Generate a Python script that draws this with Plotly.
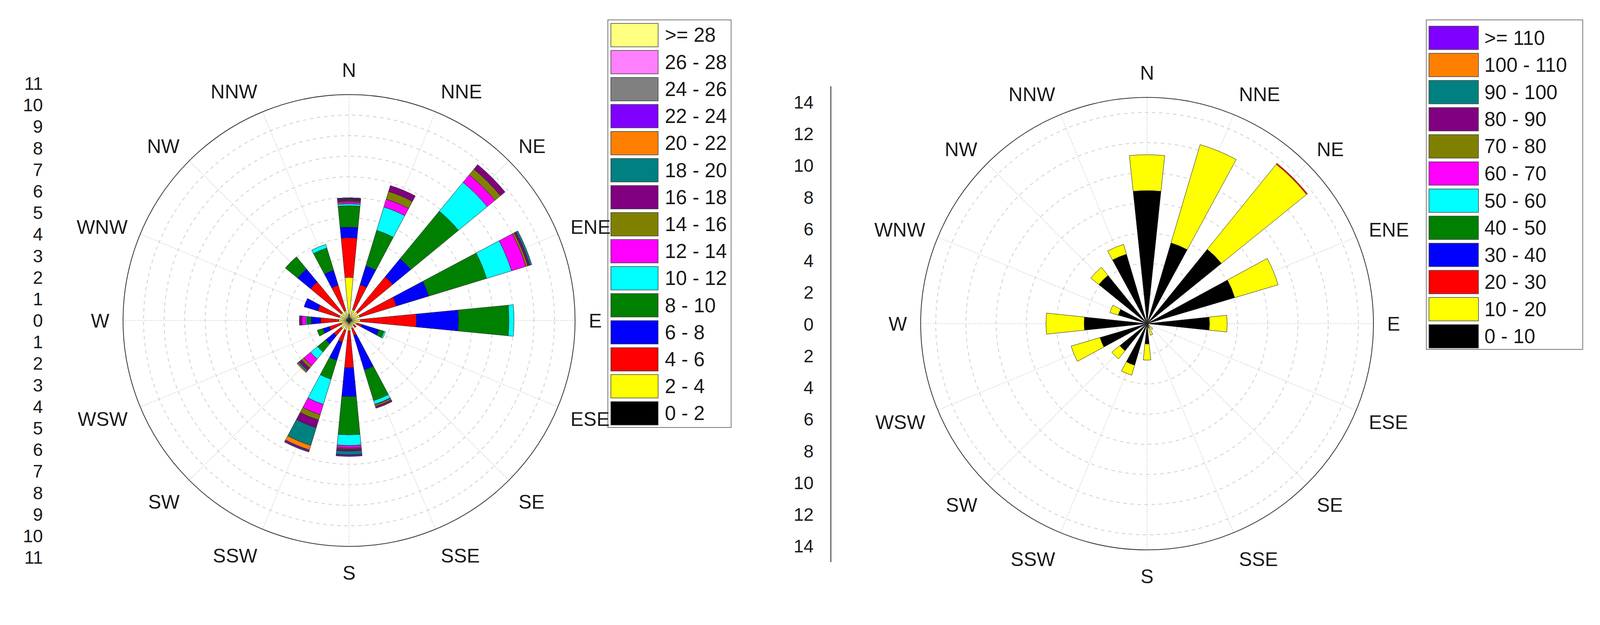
import plotly.graph_objects as go

# ---------------- data ----------------
directions = ["N", "NNE", "NE", "ENE", "E", "ESE", "SE", "SSE",
              "S", "SSW", "SW", "WSW", "W", "WNW", "NW", "NNW"]
angles = [0, 22.5, 45, 67.5, 90, 112.5, 135, 157.5,
          180, 202.5, 225, 247.5, 270, 292.5, 315, 337.5]

# left rose - frequency (%) of each speed class, per direction (N ... NNW)
left_bins = ["0 - 2", "2 - 4", "4 - 6", "6 - 8", "8 - 10", "10 - 12", "12 - 14", "14 - 16",
             "16 - 18", "18 - 20", "20 - 22", "22 - 24", "24 - 26", "26 - 28", ">= 28"]
left_colors = ["#000000", "#FFFF00", "#FF0000", "#0000FF", "#008000", "#00FFFF", "#FF00FF", "#808000",
               "#800080", "#008080", "#FF8000", "#8000FF", "#808080", "#FF80FF", "#FFFF80"]
l_0_2 = [0.30, 0.15, 0.15, 0.15, 0.15, 0.10, 0.10, 0.10, 0.15, 0.10, 0.10, 0.10, 0.15, 0.15, 0.15, 0.15]
l_2_4 = [1.80, 0.40, 0.40, 0.40, 0.40, 0.30, 0.20, 0.30, 0.35, 0.40, 0.40, 0.30, 0.35, 0.35, 0.35, 0.35]
l_4_6 = [1.93, 1.27, 2.21, 1.86, 2.73, 0.25, 0.15, 0.37, 1.80, 0.60, 0.46, 0.60, 0.88, 1.09, 1.93, 1.30]
l_6_8 = [0.52, 0.96, 1.14, 1.65, 2.05, 0.87, 0.00, 1.75, 1.41, 0.93, 0.52, 0.33, 0.46, 0.70, 0.82, 0.76]
l_8_10 = [1.04, 1.81, 3.00, 2.94, 2.45, 0.26, 0.00, 1.56, 1.86, 0.96, 0.51, 0.29, 0.21, 0.00, 0.77, 1.13]
l_10_12 = [0.09, 1.19, 1.82, 1.27, 0.25, 0.07, 0, 0.19, 0.52, 1.28, 0.44, 0, 0.05, 0, 0, 0.19]
l_12_14 = [0.08, 0.40, 0.48, 0.73, 0, 0, 0, 0.03, 0.11, 0.53, 0.43, 0, 0.20, 0, 0, 0]
l_14_16 = [0.05, 0.39, 0.35, 0.10, 0, 0, 0, 0.08, 0.05, 0.27, 0.14, 0, 0, 0, 0, 0]
l_16_18 = [0.08, 0.30, 0.29, 0.10, 0, 0, 0, 0.09, 0.11, 0.39, 0.15, 0, 0.12, 0, 0, 0]
l_18_20 = [0.03, 0, 0, 0.10, 0, 0, 0, 0, 0.18, 0.90, 0.09, 0, 0, 0, 0, 0]
l_20_22 = [0.02, 0, 0, 0, 0, 0, 0, 0, 0.02, 0.23, 0.05, 0, 0, 0, 0, 0]
l_22_24 = [0.04, 0, 0, 0, 0, 0, 0, 0, 0.06, 0.06, 0, 0, 0, 0, 0, 0]
l_24_26 = [0, 0, 0, 0, 0, 0, 0, 0, 0, 0.03, 0, 0, 0, 0, 0, 0]
l_26_28 = [0, 0, 0, 0, 0, 0, 0, 0, 0, 0.02, 0, 0, 0, 0, 0, 0]
l_28_up = [0, 0, 0, 0, 0, 0, 0, 0, 0, 0, 0, 0, 0, 0, 0, 0]
left_values = [l_0_2, l_2_4, l_4_6, l_6_8, l_8_10, l_10_12, l_12_14, l_14_16,
               l_16_18, l_18_20, l_20_22, l_22_24, l_24_26, l_26_28, l_28_up]
left_rings = [1, 2, 3, 4, 5, 6, 7, 8, 9, 10]
left_scale = [-11, -10, -9, -8, -7, -6, -5, -4, -3, -2, -1, 0, 1, 2, 3, 4, 5, 6, 7, 8, 9, 10, 11]

# right rose
right_bins = ["0 - 10", "10 - 20", "20 - 30", "30 - 40", "40 - 50", "50 - 60",
              "60 - 70", "70 - 80", "80 - 90", "90 - 100", "100 - 110", ">= 110"]
right_colors = ["#000000", "#FFFF00", "#FF0000", "#0000FF", "#008000", "#00FFFF",
                "#FF00FF", "#808000", "#800080", "#008080", "#FF8000", "#8000FF"]
r_0_10 = [8.82, 5.58, 6.34, 6.06, 4.14, 0.10, 0.20, 0.30, 1.35, 2.88, 2.32, 3.25, 4.17, 1.99, 4.11, 4.80]
r_10_20 = [2.38, 6.80, 7.26, 3.00, 1.17, 0, 0.30, 0.50, 1.07, 0.69, 0.69, 2.00, 2.53, 0.58, 0.69, 0.68]
r_20_30 = [0, 0, 0.08, 0, 0, 0, 0, 0, 0, 0, 0, 0, 0, 0, 0, 0]
r_zero = [0] * 16
right_values = [r_0_10, r_10_20, r_20_30] + [r_zero] * 9
right_rings = [2, 4, 6, 8, 10, 12, 14]
right_scale = [-14, -12, -10, -8, -6, -4, -2, 0, 2, 4, 6, 8, 10, 12, 14]

# ---------------- layout helpers ----------------
W, H = 4296, 1601
PAD = 8  # browser body margin around the plot div
FONT = "Liberation Sans, Arial, sans-serif"


def px(x):
    return (x - PAD) / (W - 2 * PAD)


def py(y):
    return 1 - (y - PAD) / (H - 2 * PAD)


fig = go.Figure()

for name, color, vals in zip(left_bins, left_colors, left_values):
    fig.add_trace(go.Barpolar(r=vals, theta=angles, width=11, name=name, subplot="polar",
                              marker=dict(color=color, line=dict(color="#222222", width=1)),
                              showlegend=False))

for name, color, vals in zip(right_bins, right_colors, right_values):
    fig.add_trace(go.Barpolar(r=vals, theta=angles, width=12, name=name, subplot="polar2",
                              marker=dict(color=color, line=dict(color="#222222", width=1)),
                              showlegend=False))

# empty traces so the two vertical scales get drawn
fig.add_trace(go.Scatter(x=[], y=[], xaxis="x", yaxis="y", showlegend=False, hoverinfo="skip"))
fig.add_trace(go.Scatter(x=[], y=[], xaxis="x2", yaxis="y2", showlegend=False, hoverinfo="skip"))


def polar_axes(dom_x, dom_y, rmax, rings):
    return dict(
        domain=dict(x=dom_x, y=dom_y),
        bgcolor="white",
        barmode="stack",
        angularaxis=dict(rotation=90, direction="clockwise", tickmode="array",
                         tickvals=angles, ticktext=directions,
                         tickfont=dict(size=50, color="#1a1a1a", family=FONT),
                         ticks="outside", ticklen=24, tickcolor="rgba(0,0,0,0)",
                         showline=True, linecolor="#333333", linewidth=2,
                         showgrid=True, gridcolor="#d4d4d4", griddash="dot", gridwidth=2),
        radialaxis=dict(range=[0, rmax], tickmode="array", tickvals=rings,
                        showticklabels=False, ticks="", showline=False,
                        showgrid=True, gridcolor="#cfcfcf", griddash="dash", gridwidth=2),
    )


fig.update_layout(
    autosize=True,
    margin=dict(l=0, r=0, t=0, b=0),
    paper_bgcolor="white", plot_bgcolor="white",
    font=dict(family=FONT, color="#1a1a1a"),
    template="none",
    polar=polar_axes([px(330), px(1544)], [py(1428), py(214)], 11, left_rings),
    polar2=polar_axes([px(2472), px(3688)], [py(1437), py(221)], 15, right_rings),
    xaxis=dict(domain=[px(116), px(120)], visible=False),
    yaxis=dict(domain=[py(1428), py(214)], anchor="x", range=[-11, 11],
               tickmode="array", tickvals=left_scale, ticktext=[str(abs(v)) for v in left_scale],
               tickfont=dict(size=46, color="#1a1a1a"), showline=False, showgrid=False,
               zeroline=False, ticks=""),
    xaxis2=dict(domain=[px(2232), px(2236)], visible=False),
    yaxis2=dict(domain=[py(1440), py(221)], anchor="x2", range=[-15, 15],
                tickmode="array", tickvals=right_scale, ticktext=[str(abs(v)) for v in right_scale],
                tickfont=dict(size=46, color="#1a1a1a"), showline=True, linecolor="#222222",
                linewidth=2, showgrid=False, zeroline=False,
                ticks="outside", ticklen=34, tickcolor="rgba(0,0,0,0)"),
)

# legends drawn as boxes with large colour swatches (as in the original figure)
shapes = []
annotations = []


def add_legend(bins, colors, box, sw_x, text_x, y0, step):
    shapes.append(dict(type="rect", xref="paper", yref="paper",
                       x0=px(box[0]), x1=px(box[1]), y0=py(box[3]), y1=py(box[2]),
                       line=dict(color="#777777", width=2), fillcolor="white", layer="below"))
    for i, (label, color) in enumerate(zip(bins[::-1], colors[::-1])):
        yc = y0 + i * step
        shapes.append(dict(type="rect", xref="paper", yref="paper",
                           x0=px(sw_x[0]), x1=px(sw_x[1]), y0=py(yc + 30), y1=py(yc - 30),
                           line=dict(color="#444444", width=1.5), fillcolor=color))
        annotations.append(dict(text=label, xref="paper", yref="paper", x=px(text_x), y=py(yc),
                                xanchor="left", yanchor="middle", showarrow=False,
                                font=dict(size=51, color="#1a1a1a", family=FONT)))


add_legend(left_bins, left_colors, (1632, 1963, 51, 1095), (1640, 1767), 1783, 90, 69.2)
add_legend(right_bins, right_colors, (3830, 4250, 51, 895), (3837, 3970), 3984, 97, 69.5)

fig.update_layout(shapes=shapes, annotations=annotations)

# fill the browser window (minus the default 8px body margin)
fig.write_html("out.html", default_width="calc(100vw - 16px)", default_height="calc(100vh - 16px)")
